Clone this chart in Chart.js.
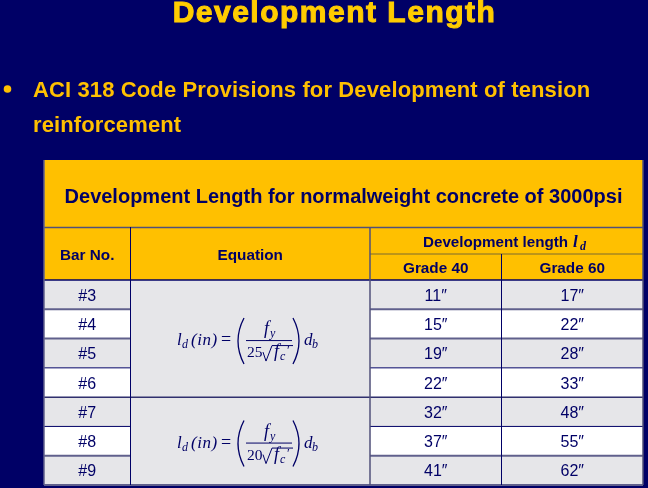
<!DOCTYPE html>
<html>
<head>
<meta charset="utf-8">
<script src="https://cdn.jsdelivr.net/npm/chart.js@4"></script>
<style>
  html, body { margin: 0; padding: 0; background: #000066; overflow: hidden; }
  canvas { display: block; }
</style>
</head>
<body>
<canvas id="tableChart" width="648" height="488"></canvas>
<script>
// table content
const barNumbers = ['#3', '#4', '#5', '#6', '#7', '#8', '#9'];
const grade40 = ['11″', '15″', '19″', '22″', '32″', '37″', '41″'];
const grade60 = ['17″', '22″', '28″', '33″', '48″', '55″', '62″'];
const equationFactors = ['25', '20'];
const equationRows = [[0, 3], [4, 6]];

const slideTitle = 'Development Length';
const bulletLines = ['ACI 318 Code Provisions for Development of tension', 'reinforcement'];
const tableTitle = 'Development Length for normalweight concrete of 3000psi';

const NAVY = '#000066';
const GOLD = '#FFC000';
const GREY = '#E6E6E9';
const RULE = '#60608C';

// column edges on the x axis
const colBar = [0, 86.5];
const colEq = [86.5, 326];
const colG40 = [326, 457.5];
const colG60 = [457.5, 599];

const rowFill = barNumbers.map((b, i) => (i === 1 || i === 3 || i === 5) ? '#FFFFFF' : GREY);

function text(ctx, str, x, y, font, color, align, spacing) {
    ctx.font = font;
    ctx.fillStyle = color;
    ctx.textAlign = align || 'center';
    ctx.textBaseline = 'alphabetic';
    ctx.letterSpacing = spacing || '0px';
    ctx.fillText(str, x, y);
    ctx.letterSpacing = '0px';
}

function drawEquation(ctx, factor, ox, barY) {
    const serif = '"Liberation Serif", serif';
    const it = sz => 'italic ' + sz + 'px ' + serif;
    const put = (s, dx, dy, font, spacing) => text(ctx, s, ox + dx, barY + dy, font, NAVY, 'left', spacing);
    put('l', 0, 5, it(17));
    put('d', 5, 8, it(12));
    put('(in)', 14, 5, it(17), '0.5px');
    put('=', 44, 5, '18px ' + serif);
    put('f', 87, -6, it(18));
    put('y', 93, -3, it(12));
    put(factor, 70, 17, '15.5px ' + serif);
    put('f', 97, 17, it(18));
    put('c', 103, 20, it(12));
    put('′', 110, 14, '13px ' + serif);
    put('d', 127, 5, it(17));
    put('b', 135, 8, it(12));

    ctx.strokeStyle = NAVY;
    ctx.lineWidth = 1;
    ctx.beginPath();
    ctx.moveTo(ox + 69, barY + 0.5);
    ctx.lineTo(ox + 115, barY + 0.5);
    // radical
    ctx.moveTo(ox + 86, barY + 12);
    ctx.lineTo(ox + 89, barY + 21);
    ctx.lineTo(ox + 95, barY + 5.5);
    ctx.lineTo(ox + 116, barY + 5.5);
    ctx.stroke();
    // big parentheses
    ctx.lineWidth = 1.3;
    ctx.beginPath();
    ctx.moveTo(ox + 67, barY - 22);
    ctx.quadraticCurveTo(ox + 55, barY + 1, ox + 67, barY + 24);
    ctx.moveTo(ox + 116, barY - 22);
    ctx.quadraticCurveTo(ox + 128, barY + 1, ox + 116, barY + 24);
    ctx.stroke();
}

const tablePlugin = {
    id: 'tablePlugin',
    beforeDatasetsDraw(chart) {
        const { ctx, scales: { x }, chartArea } = chart;
        // gold header block
        ctx.fillStyle = GOLD;
        ctx.fillRect(x.getPixelForValue(0), 160, x.getPixelForValue(599) - x.getPixelForValue(0), chartArea.top - 160);
    },
    afterDatasetsDraw(chart) {
        const { ctx, scales: { x, y }, chartArea } = chart;
        const X = v => x.getPixelForValue(v);
        const rowH = y.getPixelForValue(1) - y.getPixelForValue(0);
        const rowTop = i => y.getPixelForValue(i) - rowH / 2;
        const sans = '"Liberation Sans", Arial, sans-serif';

        // slide heading, the original is faux-bold
        text(ctx, slideTitle, 334.5, 22, 'bold 30px ' + sans, '#FFCC00', 'center', '1.5px');
        ctx.strokeStyle = '#FFCC00';
        ctx.lineWidth = 1;
        ctx.letterSpacing = '1.5px';
        ctx.strokeText(slideTitle, 334.5, 22);
        ctx.letterSpacing = '0px';

        ctx.fillStyle = GOLD;
        ctx.beginPath();
        ctx.arc(7.5, 89, 3.8, 0, Math.PI * 2);
        ctx.fill();
        text(ctx, bulletLines[0], 33, 97, 'bold 22px ' + sans, GOLD, 'left', '0.12px');
        text(ctx, bulletLines[1], 33, 132, 'bold 22px ' + sans, GOLD, 'left', '0.12px');

        // header text
        const bold = sz => 'bold ' + sz + 'px ' + sans;
        text(ctx, tableTitle, 343.5, 203, bold(20), NAVY);
        text(ctx, 'Bar No.', X(43.25), 260, bold(15.3), NAVY);
        text(ctx, 'Equation', X(206.25), 260, bold(15.3), NAVY);
        text(ctx, 'Development length', 423, 247, bold(15.2), NAVY, 'left');
        text(ctx, 'l', 573, 247, 'italic bold 17px "Liberation Serif", serif', NAVY, 'left');
        text(ctx, 'd', 580, 250, 'italic bold 12px "Liberation Serif", serif', NAVY, 'left');
        text(ctx, 'Grade 40', X(391.75), 272.5, bold(15.3), NAVY);
        text(ctx, 'Grade 60', X(528.25), 272.5, bold(15.3), NAVY);

        // body text
        barNumbers.forEach((b, i) => {
            const base = y.getPixelForValue(i) + 6;
            text(ctx, b, X(43.25), base, '16px ' + sans, NAVY);
            text(ctx, grade40[i], X(391.75), base, '16px ' + sans, NAVY);
            text(ctx, grade60[i], X(528.25), base, '16px ' + sans, NAVY);
        });
        equationFactors.forEach((f, i) => {
            const r = equationRows[i];
            const barY = (rowTop(r[0]) + rowTop(r[1] + 1)) / 2 + 1.5;
            drawEquation(ctx, f, X(133), barY);
        });

        // rules between the rows
        const hline = (x0, x1, py, color, w) => {
            ctx.strokeStyle = color;
            ctx.lineWidth = w;
            ctx.beginPath();
            ctx.moveTo(x0, py);
            ctx.lineTo(x1, py);
            ctx.stroke();
        };
        const vline = (px, y0, y1, color, w) => {
            ctx.strokeStyle = color;
            ctx.lineWidth = w;
            ctx.beginPath();
            ctx.moveTo(px, y0);
            ctx.lineTo(px, y1);
            ctx.stroke();
        };
        barNumbers.forEach((b, i) => {
            if (i === 0) return;
            const py = rowTop(i);
            const thin = i === 3 || i === 5;
            if (i === 4) {
                hline(X(0), X(599), py, '#30306E', 1.5);
            } else {
                hline(X(0), X(86.5), py, thin ? NAVY : RULE, thin ? 1 : 2);
                hline(X(326), X(599), py, thin ? NAVY : RULE, thin ? 1 : 2);
            }
        });
        hline(X(0), X(599), chartArea.bottom, RULE, 2);
        hline(X(0), X(599), 227.5, '#50507A', 1.5);
        hline(X(0), X(599), chartArea.top, NAVY, 1.5);
        hline(X(326), X(599), 254, '#7A6A30', 1);

        vline(X(0), 160, chartArea.bottom, RULE, 1.5);
        vline(X(86.5), 227, chartArea.bottom, NAVY, 1);
        vline(X(326), 227, chartArea.bottom, '#50507A', 1.5);
        vline(X(457.5), 254, chartArea.bottom, NAVY, 1);
        vline(X(599), 160, chartArea.bottom, '#50507A', 1.5);
    }
};

new Chart(document.getElementById('tableChart').getContext('2d'), {
    type: 'bar',
    data: {
        labels: barNumbers,
        datasets: [
            { label: 'Bar No.', data: barNumbers.map(() => colBar), backgroundColor: rowFill },
            { label: 'Equation', data: barNumbers.map(() => colEq), backgroundColor: GREY },
            { label: 'Grade 40', data: barNumbers.map(() => colG40), backgroundColor: rowFill },
            { label: 'Grade 60', data: barNumbers.map(() => colG60), backgroundColor: rowFill }
        ]
    },
    options: {
        indexAxis: 'y',
        responsive: false,
        animation: false,
        devicePixelRatio: 1,
        layout: { padding: { left: 44, right: 5, top: 280, bottom: 3 } },
        datasets: { bar: { grouped: false, barPercentage: 1, categoryPercentage: 1 } },
        scales: {
            x: { display: false, min: 0, max: 599 },
            y: { display: false }
        },
        plugins: { legend: { display: false }, tooltip: { enabled: false } }
    },
    plugins: [tablePlugin]
});
</script>
</body>
</html>
